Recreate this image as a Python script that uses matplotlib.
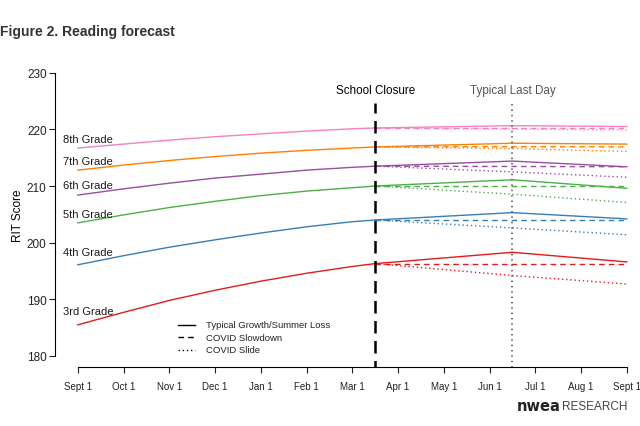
import matplotlib.pyplot as plt

# ===================== DATA =====================
month_labels = ['Sept 1', 'Oct 1', 'Nov 1', 'Dec 1', 'Jan 1', 'Feb 1', 'Mar 1',
                'Apr 1', 'May 1', 'Jun 1', 'Jul 1', 'Aug 1', 'Sept 1']
closure_month = 6.5
last_day_month = 9.5

grades = ['3rd Grade', '4th Grade', '5th Grade', '6th Grade', '7th Grade', '8th Grade']
colors = ['#e41a1c', '#377eb8', '#4daf4a', '#984ea3', '#ff7f00', '#f781bf']

# school year up to closure (months 0..6, then closure)
pre_months = [0, 1, 2, 3, 4, 5, 6, 6.5]
pre_3 = [185.5, 187.7, 189.8, 191.6, 193.2, 194.6, 195.8, 196.3]
pre_4 = [196.1, 197.7, 199.2, 200.5, 201.7, 202.8, 203.7, 204.0]
pre_5 = [203.5, 204.9, 206.2, 207.3, 208.3, 209.1, 209.7, 210.0]
pre_6 = [208.4, 209.5, 210.5, 211.4, 212.1, 212.8, 213.3, 213.5]
pre_7 = [212.8, 213.7, 214.5, 215.2, 215.8, 216.3, 216.7, 216.9]
pre_8 = [216.7, 217.4, 218.1, 218.7, 219.2, 219.7, 220.1, 220.25]

# after closure: closure, typical last day, next Sept 1
post_months = [6.5, 9.5, 12]
typical_3 = [196.3, 198.3, 196.6]
typical_4 = [204.0, 205.3, 204.2]
typical_5 = [210.0, 211.1, 209.6]
typical_6 = [213.5, 214.4, 213.4]
typical_7 = [216.9, 217.55, 217.4]
typical_8 = [220.25, 220.65, 220.5]

slowdown_3 = [196.3, 196.3, 196.3]
slowdown_4 = [204.0, 204.0, 204.0]
slowdown_5 = [210.0, 210.0, 210.0]
slowdown_6 = [213.5, 213.45, 213.4]
slowdown_7 = [216.9, 216.95, 216.9]
slowdown_8 = [220.25, 220.25, 220.25]

slide_3 = [196.3, 194.2, 192.7]
slide_4 = [204.0, 202.6, 201.4]
slide_5 = [210.0, 208.55, 207.1]
slide_6 = [213.5, 212.5, 211.55]
slide_7 = [216.9, 216.6, 216.1]
slide_8 = [220.25, 220.05, 219.9]

label_y = [187.9, 198.4, 205.1, 210.1, 214.4, 218.3]

# ===================== STYLE =====================
plt.rcParams['font.family'] = ['Liberation Sans', 'DejaVu Sans']
DASH = (0, (4, 3))
DOT = (0, (1, 2))

pre = [pre_3, pre_4, pre_5, pre_6, pre_7, pre_8]
typical = [typical_3, typical_4, typical_5, typical_6, typical_7, typical_8]
slowdown = [slowdown_3, slowdown_4, slowdown_5, slowdown_6, slowdown_7, slowdown_8]
slide = [slide_3, slide_4, slide_5, slide_6, slide_7, slide_8]

# ===================== PLOT =====================
fig = plt.figure(figsize=(6.4, 4.27), dpi=100)
ax = fig.add_axes([0.0859, 0.1375, 0.9141, 0.7164])

for i in range(len(grades)):
    c = colors[i]
    ax.plot(pre_months, pre[i], color=c, lw=1.0)
    ax.plot(post_months, slide[i], color=c, lw=1.0, linestyle=DOT)
    ax.plot(post_months, slowdown[i], color=c, lw=1.0, linestyle=DASH)
    ax.plot(post_months, typical[i], color=c, lw=1.0)
    ax.text(-0.33, label_y[i], grades[i], fontsize=8, color='#1a1a1a',
            ha='left', va='center')

# closure / last day markers
ax.plot([closure_month, closure_month], [177, 224.6], color='black',
        lw=1.8, linestyle=(0, (5, 3)))
ax.plot([last_day_month, last_day_month], [177, 225.0], color='#555555',
        lw=1.1, linestyle=(0, (1, 2.5)))
ax.text(closure_month, 226.9, 'School Closure', fontsize=8.4, color='black',
        ha='center', va='center')
ax.text(last_day_month, 227.0, 'Typical Last Day', fontsize=8.4, color='#555555',
        ha='center', va='center')

# legend drawn by hand (like the original)
leg_items = [('Typical Growth/Summer Loss', '-'), ('COVID Slowdown', DASH),
             ('COVID Slide', DOT)]
for k, (txt, ls) in enumerate(leg_items):
    yy = 185.5 - k * 2.2
    ax.plot([2.2, 2.57], [yy, yy], color='black', lw=1.0, linestyle=ls)
    ax.text(2.8, yy, txt, fontsize=6.8, color='#222222', ha='left', va='center')

# ---------- Axes ----------
ax.set_xlim(-0.5, 12.29)
ax.set_ylim(178, 232)
ax.set_xticks(range(13))
ax.set_xticklabels(month_labels, fontsize=7)
ax.set_yticks([180, 190, 200, 210, 220, 230])
ax.set_yticklabels(['180', '190', '200', '210', '220', '230'], fontsize=8.5)
ax.set_ylabel('RIT Score', fontsize=8.5, labelpad=2)

for side in ['top', 'right']:
    ax.spines[side].set_visible(False)
ax.spines['left'].set_bounds(180, 230)
ax.spines['bottom'].set_bounds(0, 12)
ax.spines['left'].set_linewidth(0.8)
ax.spines['bottom'].set_linewidth(0.8)
ax.tick_params(axis='both', length=4, width=0.8, color='#222222',
               labelcolor='#222222')
ax.tick_params(axis='x', pad=6)
ax.tick_params(axis='y', pad=2)

# ---------- Title & branding ----------
fig.text(0.0, 0.925, 'Figure 2. Reading forecast', fontsize=10, fontweight='bold',
         color='#333333', ha='left', va='center')
fig.text(0.98, 0.047, 'RESEARCH', fontsize=8.5, color='#444444',
         ha='right', va='center')
fig.text(0.876, 0.047, 'nwea', fontsize=10.5, fontweight='bold', color='#222222',
         ha='right', va='center', family='DejaVu Sans')

fig.savefig('out.png', dpi=100)
plt.close()
